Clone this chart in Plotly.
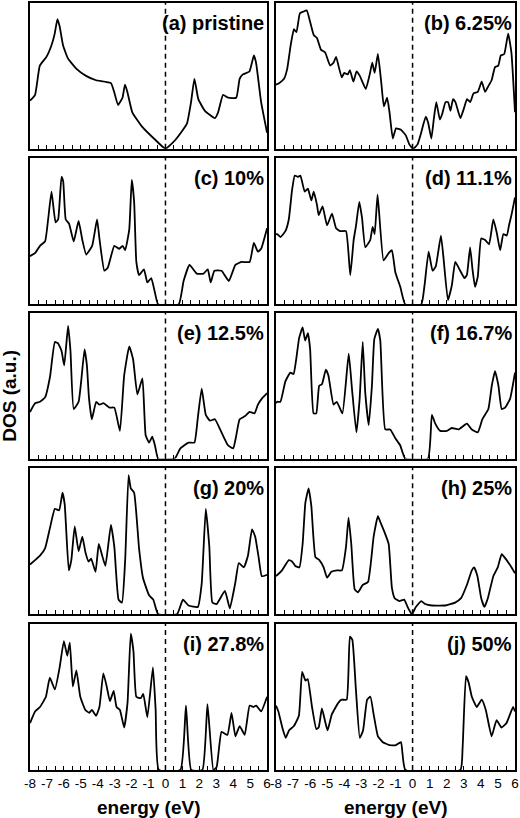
import plotly.graph_objects as go
from plotly.subplots import make_subplots

FERMI = 0.0
TICKVALS = list(range(-8, 7))
TICKTEXT = [str(v) for v in TICKVALS]
LABELS = ["(a) pristine", "(b) 6.25%", "(c) 10%", "(d) 11.1%", "(e) 12.5%",
          "(f) 16.7%", "(g) 20%", "(h) 25%", "(i) 27.8%", "(j) 50%"]

a_x = [-8, -7.7, -7.42, -7.03, -6.73, -6.54, -6.38, -6.25, -6.05, -5.76, -5.27, -4.69, -4.1, -3.22, -3.03, -2.8, -2.54, -2.39, -2.25, -1.96, -1.37, -0.59, 0, 0.58, 1.26, 1.51, 1.71, 1.94, 2.33, 2.92, 3.11, 3.4, 3.7, 4.18, 4.38, 4.57, 4.96, 5.22, 5.35, 5.65, 6]
a_y = [0.33, 0.37, 0.57, 0.63, 0.71, 0.79, 0.89, 0.84, 0.71, 0.62, 0.55, 0.50, 0.47, 0.45, 0.39, 0.30, 0.35, 0.44, 0.39, 0.25, 0.15, 0.06, 0.0, 0.06, 0.17, 0.32, 0.48, 0.34, 0.26, 0.21, 0.25, 0.37, 0.35, 0.35, 0.48, 0.51, 0.53, 0.64, 0.59, 0.32, 0.11]

b_x = [-8, -7.82, -7.53, -7.34, -7.14, -6.95, -6.8, -6.6, -6.41, -6.2, -6.02, -5.79, -5.6, -5.37, -5.12, -4.83, -4.63, -4.48, -4.34, -4.15, -4.0, -3.8, -3.67, -3.47, -3.28, -3.09, -2.74, -2.51, -2.36, -2.22, -2.03, -1.83, -1.68, -1.49, -1.35, -1.16, -0.97, -0.68, -0.39, -0.19, 0.04, 0.29, 0.48, 0.77, 0.91, 1.1, 1.25, 1.39, 1.6, 1.74, 1.93, 2.08, 2.22, 2.37, 2.51, 2.8, 2.99, 3.19, 3.38, 3.57, 3.82, 4.05, 4.25, 4.44, 4.63, 4.83, 5.02, 5.17, 5.37, 5.6, 5.79, 6]
b_y = [0.44, 0.45, 0.48, 0.55, 0.71, 0.82, 0.80, 0.93, 0.94, 0.95, 0.88, 0.78, 0.76, 0.68, 0.66, 0.57, 0.59, 0.63, 0.57, 0.49, 0.52, 0.51, 0.54, 0.46, 0.53, 0.50, 0.41, 0.51, 0.59, 0.52, 0.65, 0.45, 0.29, 0.35, 0.25, 0.07, 0.14, 0.13, 0.09, 0.03, 0.0, 0.03, 0.10, 0.22, 0.18, 0.07, 0.21, 0.32, 0.20, 0.24, 0.32, 0.32, 0.26, 0.34, 0.32, 0.21, 0.27, 0.34, 0.32, 0.38, 0.39, 0.46, 0.39, 0.43, 0.47, 0.56, 0.57, 0.64, 0.65, 0.79, 0.66, 0.25]

c_x = [-8, -7.7, -7.41, -7.11, -6.92, -6.73, -6.49, -6.34, -6.14, -6.04, -5.89, -5.69, -5.42, -5.13, -4.91, -4.68, -4.33, -4.04, -3.9, -3.61, -3.41, -3.02, -2.73, -2.53, -2.38, -2.14, -1.99, -1.85, -1.72, -1.56, -1.27, -1.07, -0.84, -0.64, -0.43, 0.78, 1.07, 1.42, 1.85, 2.24, 2.5, 2.67, 2.89, 3.31, 3.74, 4.13, 4.48, 4.97, 5.22, 5.46, 5.65, 6]
c_y = [0.33, 0.35, 0.40, 0.43, 0.59, 0.77, 0.56, 0.58, 0.87, 0.84, 0.58, 0.55, 0.43, 0.57, 0.44, 0.34, 0.40, 0.58, 0.45, 0.23, 0.25, 0.40, 0.38, 0.40, 0.37, 0.51, 0.85, 0.70, 0.29, 0.20, 0.24, 0.15, 0.18, 0.09, 0.0, 0.0, 0.16, 0.27, 0.21, 0.21, 0.24, 0.15, 0.23, 0.23, 0.16, 0.27, 0.29, 0.29, 0.42, 0.36, 0.38, 0.52]

d_x = [-8, -7.93, -7.74, -7.45, -7.25, -7.06, -6.9, -6.71, -6.57, -6.32, -6.13, -5.93, -5.79, -5.6, -5.5, -5.27, -5.01, -4.72, -4.48, -4.23, -3.9, -3.65, -3.45, -3.31, -3.12, -2.96, -2.77, -2.48, -2.34, -2.22, -2.05, -1.7, -1.4, -1.21, -1.01, -0.72, -0.43, 0.51, 0.70, 0.94, 1.17, 1.36, 1.66, 1.81, 2.07, 2.30, 2.5, 2.79, 3.04, 3.18, 3.37, 3.51, 3.66, 3.82, 4.02, 4.25, 4.48, 4.73, 4.93, 5.13, 5.32, 5.52, 5.65, 5.81, 6]
d_y = [0.48, 0.48, 0.46, 0.50, 0.58, 0.78, 0.88, 0.87, 0.88, 0.77, 0.79, 0.71, 0.77, 0.68, 0.61, 0.67, 0.54, 0.62, 0.52, 0.50, 0.50, 0.20, 0.44, 0.54, 0.70, 0.59, 0.39, 0.44, 0.53, 0.48, 0.75, 0.30, 0.35, 0.37, 0.22, 0.12, 0.0, 0.0, 0.13, 0.36, 0.23, 0.26, 0.47, 0.32, 0.03, 0.13, 0.29, 0.23, 0.18, 0.20, 0.39, 0.24, 0.12, 0.19, 0.45, 0.44, 0.41, 0.58, 0.49, 0.37, 0.48, 0.47, 0.54, 0.62, 0.73]

e_x = [-8, -7.7, -7.41, -7.11, -6.82, -6.53, -6.34, -6.14, -5.98, -5.75, -5.61, -5.42, -5.13, -4.97, -4.78, -4.64, -4.52, -4.35, -4.09, -3.9, -3.66, -3.31, -3.02, -2.69, -2.44, -2.14, -1.91, -1.66, -1.36, -1.17, -0.97, -0.78, -0.62, -0.43, 0.55, 0.88, 1.36, 1.71, 1.91, 2.14, 2.38, 2.63, 2.92, 3.27, 3.7, 4.0, 4.15, 4.38, 4.68, 4.97, 5.26, 5.46, 5.75, 6]
e_y = [0.32, 0.38, 0.39, 0.42, 0.56, 0.80, 0.79, 0.74, 0.64, 0.91, 0.74, 0.34, 0.39, 0.54, 0.75, 0.64, 0.42, 0.27, 0.39, 0.37, 0.38, 0.35, 0.35, 0.19, 0.57, 0.77, 0.68, 0.44, 0.55, 0.16, 0.11, 0.15, 0.09, 0.0, 0.0, 0.07, 0.11, 0.11, 0.28, 0.48, 0.30, 0.26, 0.27, 0.19, 0.09, 0.07, 0.14, 0.27, 0.29, 0.32, 0.31, 0.37, 0.42, 0.45]

f_x = [-8, -7.93, -7.74, -7.45, -7.16, -6.97, -6.83, -6.64, -6.44, -6.29, -6.13, -6.0, -5.8, -5.64, -5.47, -5.31, -5.08, -4.93, -4.63, -4.44, -4.11, -3.74, -3.55, -3.29, -3.1, -2.92, -2.77, -2.57, -2.38, -2.24, -2.03, -1.89, -1.6, -1.31, -1.01, -0.72, -0.43, 0.90, 1.13, 1.33, 1.62, 2.01, 2.30, 2.69, 3.18, 3.47, 3.82, 4.09, 4.44, 4.64, 4.83, 5.03, 5.22, 5.42, 5.71, 6]
f_y = [0.38, 0.39, 0.39, 0.53, 0.59, 0.58, 0.67, 0.83, 0.90, 0.81, 0.86, 0.75, 0.31, 0.31, 0.50, 0.51, 0.61, 0.57, 0.37, 0.39, 0.31, 0.72, 0.48, 0.18, 0.41, 0.80, 0.45, 0.23, 0.50, 0.82, 0.89, 0.81, 0.20, 0.20, 0.14, 0.09, 0.0, 0.0, 0.30, 0.24, 0.19, 0.19, 0.21, 0.20, 0.24, 0.20, 0.18, 0.27, 0.34, 0.50, 0.60, 0.50, 0.34, 0.35, 0.41, 0.59]

g_x = [-8, -7.7, -7.41, -7.11, -6.82, -6.53, -6.28, -6.08, -5.95, -5.71, -5.56, -5.36, -5.13, -4.91, -4.72, -4.54, -4.39, -4.13, -3.94, -3.76, -3.55, -3.22, -3.02, -2.77, -2.57, -2.38, -2.18, -2.05, -1.85, -1.56, -1.33, -0.97, -0.72, -0.43, 0.68, 1.03, 1.36, 1.91, 2.14, 2.38, 2.59, 2.77, 3.02, 3.51, 3.8, 4.13, 4.33, 4.62, 4.87, 5.11, 5.3, 5.5, 5.69, 6]
g_y = [0.34, 0.37, 0.40, 0.45, 0.59, 0.72, 0.71, 0.83, 0.75, 0.30, 0.37, 0.60, 0.43, 0.53, 0.42, 0.36, 0.38, 0.29, 0.48, 0.41, 0.33, 0.61, 0.46, 0.10, 0.08, 0.37, 0.95, 0.86, 0.83, 0.45, 0.25, 0.13, 0.10, 0.0, 0.0, 0.10, 0.06, 0.05, 0.21, 0.72, 0.46, 0.08, 0.07, 0.16, 0.04, 0.22, 0.35, 0.32, 0.40, 0.58, 0.53, 0.39, 0.26, 0.27]

h_x = [-8, -7.65, -7.25, -7.06, -6.87, -6.63, -6.44, -6.28, -6.09, -5.93, -5.69, -5.46, -5.21, -5.01, -4.76, -4.43, -4.14, -3.9, -3.75, -3.59, -3.39, -3.2, -2.92, -2.61, -2.28, -2.03, -1.89, -1.64, -1.40, -1.21, -1.05, -0.78, -0.49, -0.29, -0.04, 0.19, 0.51, 0.74, 1.13, 1.91, 2.49, 2.84, 3.18, 3.47, 3.61, 3.8, 4.02, 4.21, 4.41, 4.73, 4.99, 5.22, 5.51, 5.80, 6]
h_y = [0.26, 0.30, 0.37, 0.36, 0.33, 0.32, 0.48, 0.76, 0.86, 0.74, 0.39, 0.37, 0.32, 0.25, 0.29, 0.30, 0.30, 0.46, 0.66, 0.48, 0.17, 0.15, 0.20, 0.22, 0.53, 0.67, 0.63, 0.56, 0.48, 0.18, 0.11, 0.09, 0.10, 0.05, 0.0, 0.05, 0.09, 0.07, 0.06, 0.06, 0.08, 0.11, 0.20, 0.30, 0.32, 0.26, 0.11, 0.05, 0.11, 0.26, 0.32, 0.41, 0.37, 0.32, 0.28]

i_x = [-8, -7.7, -7.41, -7.06, -6.83, -6.53, -6.25, -6.0, -5.8, -5.65, -5.47, -5.26, -5.03, -4.73, -4.5, -4.35, -4.1, -3.9, -3.67, -3.47, -3.28, -3.06, -2.89, -2.69, -2.44, -2.24, -2.05, -1.89, -1.72, -1.46, -1.31, -1.07, -0.74, -0.58, -0.39, 0.88, 1.21, 1.52, 2.18, 2.48, 2.83, 3.02, 3.31, 3.66, 3.9, 4.13, 4.38, 4.68, 4.97, 5.2, 5.36, 5.65, 6]
i_y = [0.32, 0.40, 0.43, 0.50, 0.63, 0.55, 0.70, 0.88, 0.78, 0.87, 0.57, 0.68, 0.50, 0.41, 0.39, 0.41, 0.37, 0.43, 0.66, 0.57, 0.47, 0.54, 0.43, 0.41, 0.29, 0.46, 0.93, 0.81, 0.50, 0.49, 0.52, 0.36, 0.70, 0.41, 0.0, 0.0, 0.44, 0.0, 0.0, 0.45, 0.0, 0.02, 0.26, 0.24, 0.39, 0.23, 0.30, 0.24, 0.44, 0.43, 0.44, 0.40, 0.50]

j_x = [-8, -7.86, -7.63, -7.43, -7.24, -6.95, -6.66, -6.47, -6.27, -6.14, -5.89, -5.64, -5.50, -5.31, -5.12, -4.98, -4.73, -4.34, -4.15, -3.86, -3.67, -3.53, -3.32, -3.09, -2.90, -2.66, -2.47, -2.28, -2.03, -1.74, -1.35, -0.97, -0.68, -0.42, 2.80, 2.93, 3.13, 3.28, 3.47, 3.76, 4.05, 4.29, 4.63, 4.92, 5.21, 5.50, 5.89, 6]
j_y = [0.44, 0.40, 0.29, 0.22, 0.27, 0.30, 0.37, 0.67, 0.61, 0.62, 0.43, 0.28, 0.29, 0.42, 0.33, 0.27, 0.38, 0.46, 0.48, 0.48, 0.91, 0.89, 0.55, 0.22, 0.27, 0.48, 0.50, 0.38, 0.23, 0.19, 0.17, 0.17, 0.19, 0.0, 0.0, 0.15, 0.64, 0.60, 0.50, 0.43, 0.48, 0.41, 0.23, 0.34, 0.29, 0.32, 0.43, 0.40]

SERIES = [(a_x, a_y), (b_x, b_y), (c_x, c_y), (d_x, d_y), (e_x, e_y),
          (f_x, f_y), (g_x, g_y), (h_x, h_y), (i_x, i_y), (j_x, j_y)]

fig = make_subplots(rows=5, cols=2)

col_dom = [[0.0, 0.4888], [0.5072, 1.0]]
row_dom = [[0.810, 1.0], [0.607, 0.798], [0.406, 0.596], [0.203, 0.394], [0.0, 0.191]]
FONT = "Liberation Sans, Arial, sans-serif"

for k, (xs, ys) in enumerate(SERIES):
    r = k // 2 + 1
    c = k % 2 + 1
    fig.add_trace(go.Scatter(x=xs, y=ys, mode="lines",
                             line=dict(color="black", width=1.8, shape="spline", smoothing=0.4),
                             showlegend=False, hoverinfo="skip"),
                  row=r, col=c)
    fig.add_vline(x=FERMI, line=dict(color="black", width=1.5, dash="5px,4px"),
                  row=r, col=c)
    fig.update_xaxes(domain=col_dom[c - 1], range=[-8, 6],
                     showline=True, linecolor="black", linewidth=2, mirror=True,
                     ticks="inside", ticklen=4, tickwidth=1, tickcolor="black",
                     tickvals=TICKVALS, ticktext=TICKTEXT,
                     minor=dict(dtick=0.5, tick0=0, ticks="inside", ticklen=4,
                                tickwidth=1, tickcolor="black"),
                     showticklabels=(r == 5), showgrid=False, zeroline=False,
                     tickfont=dict(family=FONT, size=13.5, color="black"),
                     row=r, col=c)
    fig.update_yaxes(domain=row_dom[r - 1], range=[0, 1],
                     showline=True, linecolor="black", linewidth=2, mirror=True,
                     ticks="", showticklabels=False, showgrid=False, zeroline=False,
                     row=r, col=c)
    xref = "x" + ("" if k == 0 else str(k + 1))
    yref = "y" + ("" if k == 0 else str(k + 1))
    fig.add_annotation(text="<b>" + LABELS[k] + "</b>", xref=xref + " domain",
                       yref=yref + " domain", x=0.995, y=0.86, xanchor="right",
                       yanchor="middle", showarrow=False,
                       font=dict(family=FONT, size=20, color="black"))

for cx in [0.2444, 0.7536]:
    fig.add_annotation(text="<b>energy (eV)</b>", xref="paper", yref="paper",
                       x=cx, y=-0.049, xanchor="center", yanchor="middle",
                       showarrow=False,
                       font=dict(family=FONT, size=19, color="black"))

fig.add_annotation(text="<b>DOS (a.u.)</b>", xref="paper", yref="paper",
                   x=-0.041, y=0.488, xanchor="center", yanchor="middle",
                   textangle=-90, showarrow=False,
                   font=dict(family=FONT, size=19, color="black"))

fig.update_layout(width=520, height=818, margin=dict(l=30, r=1, t=1, b=48),
                  paper_bgcolor="white", plot_bgcolor="white")

fig.write_html("out.html", config={"displayModeBar": False},
               post_script="document.body.style.margin='0';document.body.style.overflow='hidden';")
